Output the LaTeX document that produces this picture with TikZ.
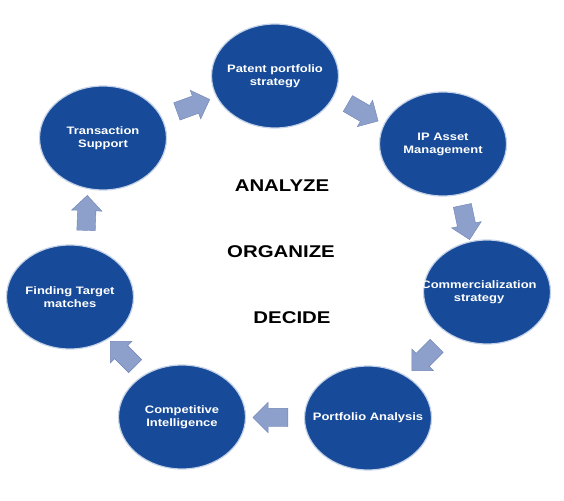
\documentclass[tikz,border=0pt]{standalone}
\usepackage{fontspec}
\setmainfont{Liberation Sans}[FakeStretch=1.2]
\usetikzlibrary{shapes.geometric,shapes.arrows,calc}
\definecolor{stageblue}{RGB}{23,75,153}
\definecolor{stageedge}{RGB}{196,210,232}
\definecolor{flowfill}{RGB}{141,160,204}
\definecolor{flowedge}{RGB}{112,132,180}
\tikzset{
	stage/.style={ellipse,fill=stageblue,draw=stageedge,line width=1.2pt,minimum width=127pt,minimum height=104pt,inner sep=0pt},
	stagetext/.style={text=white,font=\bfseries\fontsize{10.8}{13}\selectfont,align=center},
	flow/.style={single arrow,fill=flowfill,draw=flowedge,line width=0.4pt,minimum height=35pt,inner xsep=0pt,inner ysep=9pt,single arrow head extend=6pt},
	motto/.style={font=\bfseries\fontsize{17}{20}\selectfont}
}
\begin{document}
\begin{tikzpicture}[x=1pt,y=-1pt]
	\useasboundingbox (0,0) rectangle (564,500);
	\node[stage,label={[stagetext]center:Patent portfolio\\strategy}] (patent) at (275,76) {};
	\node[stage,label={[stagetext]center:IP Asset\\Management}] (asset) at (443,144) {};
	\node[stage,label={[stagetext,xshift=-8pt]center:Commercialization\\strategy}] (comm) at (487,292) {};
	\node[stage,label={[stagetext]center:Portfolio Analysis}] (port) at (368,418) {};
	\node[stage,label={[stagetext]center:Competitive\\Intelligence}] (compet) at (182,417) {};
	\node[stage,label={[stagetext]center:Finding Target\\matches}] (find) at (70,297) {};
	\node[stage,label={[stagetext]center:Transaction\\Support}] (trans) at (103,138) {};
	% arrows between the stages
	\foreach \from/\to/\ang in {trans/patent/20,patent/asset/-30,asset/comm/-78,comm/port/-135,port/compet/180,compet/find/135,find/trans/88}
		\node[flow,rotate=\ang] (\from-\to) at ($(\from)!0.5!(\to)$) {};
	\node[motto] (analyze) at (282,186) {ANALYZE};
	\node[motto] (organize) at (281,252) {ORGANIZE};
	\node[motto] (decide) at (292,318) {DECIDE};
\end{tikzpicture}
\end{document}
